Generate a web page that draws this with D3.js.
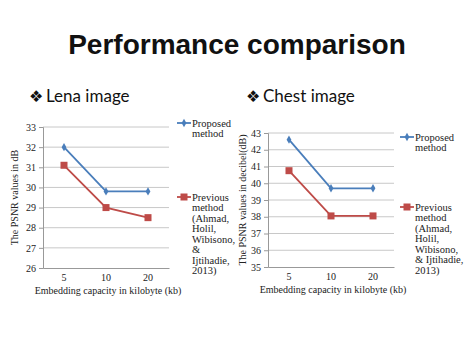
<!DOCTYPE html>
<html><head><meta charset="utf-8">
<script src="https://cdn.jsdelivr.net/npm/d3@7"></script>
<style>body{margin:0;background:#fff}</style>
</head><body>
<script>
const categories = ["5", "10", "20"];
const lenaProposed = [32, 29.8, 29.8];
const lenaPrevious = [31.1, 29.0, 28.5];
const chestProposed = [42.6, 39.7, 39.7];
const chestPrevious = [40.75, 38.05, 38.05];
const lenaTicks = [26, 27, 28, 29, 30, 31, 32, 33];
const chestTicks = [35, 36, 37, 38, 39, 40, 41, 42, 43];
const legendProposed = ["Proposed", "method"];
const legendPrevious = ["Previous", "method", "(Ahmad,", "Holil,", "Wibisono,", "&", "Ijtihadie,", "2013)"];
const legendPreviousChest = ["Previous", "method", "(Ahmad,", "Holil,", "Wibisono,", "& Ijtihadie,", "2013)"];

const W = 474, H = 355;
const svg = d3.select("body").append("svg").attr("width", W).attr("height", H);
const BLUE = "#4a7ebb", RED = "#be4b48";

svg.append("text").attr("x", 237).attr("y", 54).attr("text-anchor", "middle")
  .attr("font-family", "Liberation Sans, Arial, sans-serif").attr("font-weight", "bold")
  .attr("font-size", 28).attr("fill", "#111").text("Performance comparison");

function bullet(x, y, label) {
  svg.append("text").attr("x", x).attr("y", y).attr("font-family", "DejaVu Sans")
    .attr("font-size", 16).attr("fill", "#111").text("\u2756");
  svg.append("text").attr("x", x + 17).attr("y", y).attr("font-family", "Lato, Open Sans, sans-serif")
    .attr("font-size", 17).attr("fill", "#111").text(label);
}
bullet(29, 102, "Lena image");
bullet(246, 102, "Chest image");

function chart(cfg) {
  const g = svg.append("g");
  const x = d3.scaleBand().domain(categories).range([cfg.x0, cfg.x1]);
  const y = d3.scaleLinear().domain([cfg.ticks[0], cfg.ticks[cfg.ticks.length - 1]]).range([cfg.y0, cfg.y1]);
  const font = "Liberation Serif, Times New Roman, serif";
  g.selectAll(".grid").data(cfg.ticks.slice(1)).join("line")
    .attr("x1", cfg.x0).attr("x2", cfg.x1).attr("y1", d => y(d)).attr("y2", d => y(d))
    .attr("stroke", "#c8c8c8").attr("stroke-width", 1);
  const ya = d3.axisLeft(y).tickValues(cfg.ticks).tickSize(4).tickPadding(3).tickFormat(d3.format("d"));
  const yg = g.append("g").attr("transform", `translate(${cfg.x0},0)`).call(ya);
  yg.select(".domain").attr("stroke", "#999");
  yg.selectAll(".tick line").attr("stroke", "#999");
  yg.selectAll("text").attr("font-family", font).attr("font-size", 10).attr("fill", "#222");
  const xa = d3.axisBottom(x).tickSize(0).tickPadding(6);
  const xg = g.append("g").attr("transform", `translate(0,${cfg.y0})`).call(xa);
  xg.select(".domain").attr("stroke", "#999");
  xg.selectAll("text").attr("font-family", font).attr("font-size", 10).attr("fill", "#222");
  g.append("text").attr("transform", `translate(${cfg.ytx},${(cfg.y0 + cfg.y1) / 2}) rotate(-90)`)
    .attr("text-anchor", "middle").attr("font-family", font).attr("font-size", 10).attr("fill", "#222")
    .text(cfg.ytitle);
  g.append("text").attr("x", (cfg.x0 + cfg.x1) / 2 + 2).attr("y", cfg.y0 + 26).attr("text-anchor", "middle")
    .attr("font-family", font).attr("font-size", 10).attr("fill", "#222").text("Embedding capacity in kilobyte (kb)");
  const cx = d => x(d) + x.bandwidth() / 2;
  const line = d3.line().x((d, i) => cx(categories[i])).y(d => y(d));
  g.append("path").datum(cfg.prev).attr("d", line).attr("fill", "none").attr("stroke", RED).attr("stroke-width", 1.8);
  g.append("path").datum(cfg.prop).attr("d", line).attr("fill", "none").attr("stroke", BLUE).attr("stroke-width", 1.8);
  g.selectAll(".sq").data(cfg.prev).join("rect")
    .attr("x", (d, i) => cx(categories[i]) - 3.5).attr("y", d => y(d) - 3.5)
    .attr("width", 7).attr("height", 7).attr("fill", RED);
  g.selectAll(".dm").data(cfg.prop).join("path")
    .attr("d", d3.symbol(d3.symbolDiamond, 20))
    .attr("transform", (d, i) => `translate(${cx(categories[i])},${y(d)})`).attr("fill", BLUE);
  function leg(ly, color, sym, lines) {
    g.append("line").attr("x1", cfg.lx).attr("x2", cfg.lx + 14).attr("y1", ly).attr("y2", ly)
      .attr("stroke", color).attr("stroke-width", 1.8);
    if (sym === "sq") g.append("rect").attr("x", cfg.lx + 3.5).attr("y", ly - 3.5).attr("width", 7).attr("height", 7).attr("fill", color);
    else g.append("path").attr("d", d3.symbol(d3.symbolDiamond, 20)).attr("transform", `translate(${cfg.lx + 7},${ly})`).attr("fill", color);
    const t = g.append("text").attr("font-family", font).attr("font-size", 10.5).attr("fill", "#222");
    lines.forEach((s, i) => t.append("tspan").attr("x", cfg.lx + 15).attr("y", ly + 3.5 + i * 10.5).text(s));
  }
  leg(cfg.l1, BLUE, "dm", legendProposed);
  leg(cfg.l2, RED, "sq", cfg.prevLegend);
}

chart({x0: 43, x1: 169, y0: 268, y1: 127, ticks: lenaTicks, prop: lenaProposed, prev: lenaPrevious,
  ytitle: "The PSNR values in dB", ytx: 18, lx: 177, l1: 123, l2: 197, prevLegend: legendPrevious});
chart({x0: 268, x1: 394, y0: 267, y1: 133, ticks: chestTicks, prop: chestProposed, prev: chestPrevious,
  ytitle: "The PSNR values in decibel(dB)", ytx: 246, lx: 400, l1: 137, l2: 207, prevLegend: legendPreviousChest});
</script>
</body></html>
